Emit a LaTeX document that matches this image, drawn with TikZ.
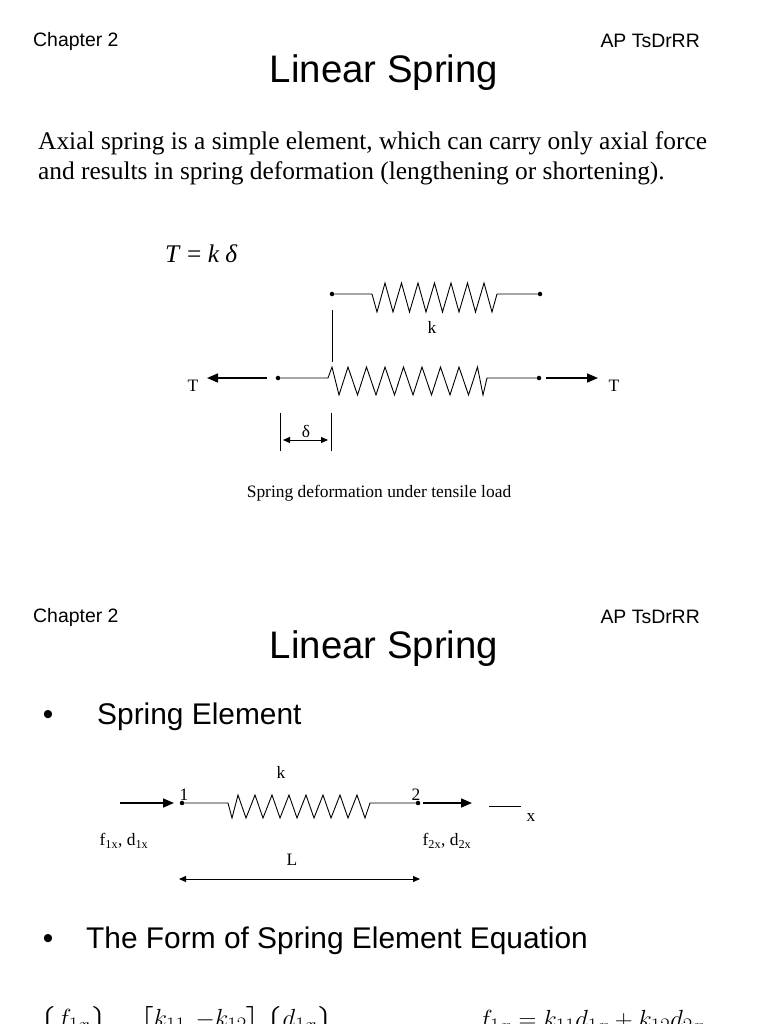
\documentclass[tikz,border=0pt]{standalone}
\usepackage{amsmath}
\usepackage{fontspec}
\setmainfont{Liberation Serif}
\newfontfamily\hsans{Liberation Sans}
\usetikzlibrary{arrows.meta}
\begin{document}
\begin{tikzpicture}[x=1bp,y=-1bp,
  every node/.style={inner sep=0pt},
  hdr/.style={font=\hsans\fontsize{19.5}{22}\selectfont},
  ttl/.style={font=\hsans\fontsize{38.5}{42}\selectfont},
  body/.style={font=\fontsize{25.5}{30}\selectfont},
  small/.style={font=\fontsize{17.5}{20}\selectfont},
  bul/.style={font=\hsans\fontsize{30}{34}\selectfont},
  wire/.style={line width=0.9bp},
  force/.style={line width=1.6bp,-{Triangle[length=11bp,width=9bp]}},
  dimarr/.style={line width=1bp,{Triangle[length=7bp,width=6bp]}-{Triangle[length=7bp,width=6bp]}},
  pin/.style={circle,fill,inner sep=1.6bp}]
\useasboundingbox[fill=white] (0,0) rectangle (768,1024);
\begin{scope}
\clip (0,0) rectangle (768,1024);
% ---- page 1
\node[hdr,anchor=west] (c1) at (33,41) {Chapter 2};
\node[hdr,anchor=east] (a1) at (700,41) {AP TsDrRR};
\node[ttl] (t1) at (384,73) {Linear Spring};
\node[body,anchor=west,align=left] (p1) at (38,158) {Axial spring is a simple element, which can carry only axial force\\and results in spring deformation (lengthening or shortening).};
\node[body,anchor=west] (eq1) at (165,254) {\textit{T} = \textit{k δ}};
% upper spring
\node[pin] (u1) at (332,294) {};
\node[pin] (u2) at (540,294) {};
\draw[wire] (u1) -- (372,294) -- (377,312)
  \foreach \i in {0,...,6} { -- (385+\i*16.5,283) -- (393+\i*16.5,312) }
  -- (497,294) -- (u2);
\node[small] (k1) at (432,327) {k};
\draw[wire] (332,310) -- (332,362);
% lower spring
\node[pin] (l1) at (278,378) {};
\node[pin] (l2) at (539,378) {};
\draw[wire] (l1) -- (328,378) -- (332,367)
  \foreach \i in {0,...,7} { -- (339+\i*18.5,395) -- (348+\i*18.5,367) }
  -- (483,395) -- (487,378) -- (l2);
\coordinate (la) at (267,378);
\coordinate (lb) at (207,378);
\draw[force] (la) -- (lb);
\coordinate (ra) at (546,378);
\coordinate (rb) at (598,378);
\draw[force] (ra) -- (rb);
\node[small] (tl) at (193,386) {T};
\node[small] (tr) at (614,386) {T};
% delta
\draw[wire] (280,413) -- (280,451);
\draw[wire] (331,413) -- (331,451);
\coordinate (d1) at (283,440);
\coordinate (d2) at (328,440);
\draw[dimarr] (d1) -- (d2);
\node[small] (dl) at (306,431) {δ};
\node[small] (cap) at (379,493) {Spring deformation under tensile load};
% ---- page 2
\node[hdr,anchor=west] (c2) at (33,617) {Chapter 2};
\node[hdr,anchor=east] (a2) at (700,617) {AP TsDrRR};
\node[ttl] (t2) at (384,649) {Linear Spring};
\node[bul] (b1) at (48,718) {•};
\node[bul,anchor=west] (s1) at (97,717) {Spring Element};
\node[pin] (n1) at (182,803) {};
\node[pin] (n2) at (418,803) {};
\node[small] (one) at (184,795) {1};
\node[small] (two) at (416,795) {2};
\draw[wire] (n1) -- (228,803) -- (232,818)
  \foreach \i in {0,...,7} { -- (238+\i*17,795) -- (246+\i*17,818) }
  -- (370,803) -- (n2);
\node[small] (k2) at (281,772) {k};
\coordinate (f1a) at (120,803);
\coordinate (f1b) at (174,803);
\draw[force] (f1a) -- (f1b);
\coordinate (f2a) at (423,803);
\coordinate (f2b) at (472,803);
\draw[force] (f2a) -- (f2b);
\draw[wire] (489,806) -- (521,806);
\node[small] (xl) at (531,817) {x};
\node[small] (fd1) at (124,841) {f\textsubscript{1x}, d\textsubscript{1x}};
\node[small] (fd2) at (447,841) {f\textsubscript{2x}, d\textsubscript{2x}};
\node[small] (Ll) at (292,860) {L};
\coordinate (L1) at (179,879);
\coordinate (L2) at (420,879);
\draw[dimarr] (L1) -- (L2);
\node[bul] (b2) at (48,942) {•};
\node[bul,anchor=west] (s2) at (86,941) {The Form of Spring Element Equation};
\node[anchor=north west,font=\fontsize{28}{32}\selectfont] (meq) at (38,1004)
  {$\begin{Bmatrix} f_{1x}\\ f_{2x}\end{Bmatrix}=\begin{bmatrix} k_{11} & -k_{12}\\ k_{21} & k_{22}\end{bmatrix}\begin{Bmatrix} d_{1x}\\ d_{2x}\end{Bmatrix}$};
\node[anchor=north west,font=\fontsize{28}{32}\selectfont] (seq) at (478,1010)
  {$f_{1x}=k_{11}d_{1x}+k_{12}d_{2x}$};
\end{scope}
\end{tikzpicture}
\end{document}
